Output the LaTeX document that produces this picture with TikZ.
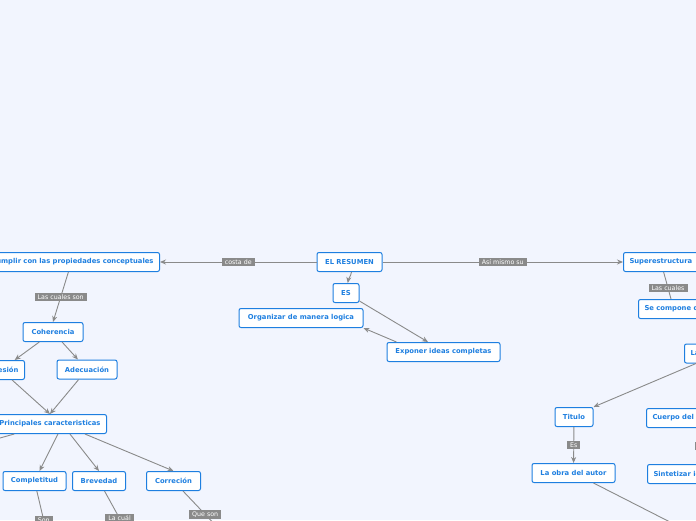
\documentclass[tikz,border=0pt]{standalone}
\usepackage{fontspec}
\setmainfont{DejaVu Sans}
\usetikzlibrary{arrows.meta}
\definecolor{bg}{HTML}{F2F5FE}
\definecolor{nb}{HTML}{1E7FE0}
\definecolor{lg}{HTML}{8A8A8A}
\tikzset{
 box/.style={draw=nb,line width=1pt,fill=white,rounded corners=2pt,text=nb,font=\fontsize{6.8}{8}\selectfont\bfseries,minimum height=19pt,inner xsep=6pt,anchor=center},
 lab/.style={fill=lg,text=white,font=\fontsize{6.3}{7.5}\selectfont,inner xsep=3pt,inner ysep=1.5pt},
 con/.style={draw=lg,line width=0.9pt},
 arr/.style={con,-{Stealth[length=6pt,width=5pt]}}
}
\begin{document}
\begin{tikzpicture}[x=1pt,y=-1pt]
\fill[bg] (0,0) rectangle (696,520);
\useasboundingbox (0,0) rectangle (696,520);
\begin{scope}
\clip (0,0) rectangle (696,520);
\node[box,minimum width=65pt] (res) at (349.5,262) {EL RESUMEN};
\node[box,anchor=east] (cum) at (160,262) {Cumplir con las propiedades conceptuales};
\node[box,minimum width=26pt,inner xsep=2pt] (es) at (346,293) {ES};
\node[box,minimum width=124pt] (org) at (301,318) {Organizar de manera logica};
\node[box,minimum width=113pt] (exp) at (443.5,352) {Exponer ideas completas};
\node[box,anchor=west] (sup) at (623,262) {Superestructura};
\node[box,anchor=west] (sec) at (638,309) {Se compone de};
\node[box,anchor=west] (lx) at (684,353.5) {La};
\node[box,minimum width=38pt,inner xsep=2pt] (tit) at (574,417) {Titulo};
\node[box,minimum width=83pt] (obr) at (573.5,473) {La obra del autor};
\node[box,anchor=west] (cue) at (646,418) {Cuerpo del texto};
\node[box,anchor=west] (sin) at (647,474) {Sintetizar ideas};
\node[box,minimum width=60pt] (coh) at (53,332) {Coherencia};
\node[box,anchor=east] (cos) at (25,370) {Cohesión};
\node[box,minimum width=60pt] (ade) at (87,369.5) {Adecuación};
\node[box,anchor=east] (pri) at (107,424) {Principales caracteristicas};
\node[box,minimum width=63pt] (com) at (34.5,481) {Completitud};
\node[box,minimum width=53pt] (bre) at (99,481) {Brevedad};
\node[box,minimum width=54pt] (cor) at (173.5,481) {Correción};
\coordinate (offl) at (0,438);
\coordinate (offo) at (670,522);
\coordinate (offc) at (46,530);
\coordinate (offb) at (126,530);
\coordinate (offr) at (220,530);
\draw[arr] (res) -- node[lab]{costa de} (cum);
\draw[arr] (res) -- node[lab,pos=0.5]{Así mismo su} (sup);
\draw[arr] (res.south) ++(2,0) to[out=-100,in=80] (es);
\draw[arr] (es) -- (exp.north west -| 428,342);
\draw[arr] (exp.north west) ++(10,0) -- (org.south east);
\draw[arr] (cum.south) ++(-4,0) -- node[lab]{Las cuales son} (coh.north);
\draw[arr] (coh) -- (cos);
\draw[arr] (coh) -- (ade);
\draw[arr] (cos) -- (pri.north);
\draw[arr] (ade) -- (pri.north);
\draw[con] (pri) -- (offl);
\draw[arr] (pri.south) ++(8,0) -- (com);
\draw[arr] (pri.south) ++(20,0) -- (bre.north);
\draw[arr] (pri.south) ++(35,0) -- (cor.north);
\draw[con] (com) -- node[lab,pos=0.75]{Son} (offc);
\draw[con] (bre) -- node[lab,pos=0.7]{La cuál} (offb);
\draw[con] (cor) -- node[lab,pos=0.6]{Que son} (offr);
\draw[con] (sup) -- node[lab,pos=0.6]{Las cuales} (sec);
\draw[arr] (lx.south west) ++(12,0) -- (tit.north east);
\draw[arr] (tit) -- node[lab]{Es} (obr);
\draw[con] (obr.south) ++(20,0) -- (offo);
\node[lab] at (702,446) {Es};
\end{scope}
\end{tikzpicture}
\end{document}
